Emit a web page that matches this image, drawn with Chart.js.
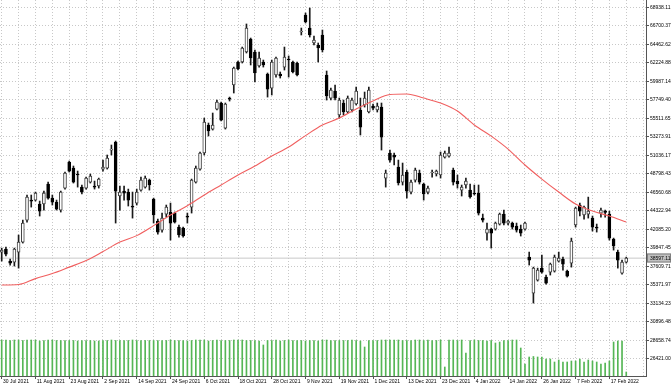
<!DOCTYPE html>
<html>
<head>
<meta charset="utf-8">
<style>
  html, body { margin: 0; padding: 0; background: #fff; }
  #wrap { width: 671px; height: 386px; }
</style>
<script src="https://cdn.jsdelivr.net/npm/chart.js@4.4.1/dist/chart.umd.min.js"></script>
</head>
<body>
<div id="wrap"><canvas id="chart" width="671" height="386"></canvas></div>
<script>
// time axis labels, one every 8 bars (weekday bars)
const dateLabels = [
  "30 Jul 2021", "11 Aug 2021", "23 Aug 2021", "2 Sep 2021", "14 Sep 2021",
  "24 Sep 2021", "6 Oct 2021", "18 Oct 2021", "28 Oct 2021", "9 Nov 2021",
  "19 Nov 2021", "1 Dec 2021", "13 Dec 2021", "23 Dec 2021", "4 Jan 2022",
  "14 Jan 2022", "26 Jan 2022", "7 Feb 2022", "17 Feb 2022",
];

// price scale labels
const priceTicks = [
  "26421.00", "28658.74", "30896.48", "33134.23", "35371.97", "37609.71",
  "39847.45", "42085.20", "44322.94", "46560.68", "48798.43", "51036.17",
  "53273.91", "55511.65", "57749.40", "59987.14", "62224.88", "64462.62",
  "66700.37", "68938.11",
];

// daily candles (index 0 = 30 Jul 2021)
const opens = [
  39330, 39690, 38240, 38120, 39330, 40540, 43200, 45620, 45620, 45140,
  45140, 47560, 45860, 45380, 44410, 47070, 50220, 49490, 48770, 47190,
  47070, 47800, 47320, 47320, 49370, 49490, 51670, 52640, 46110, 46710,
  46590, 44900, 45260, 46830, 47190, 48040, 45740, 43080, 41990, 43930,
  44170, 44050, 42350, 42230, 43690, 44770, 47800, 49370, 51310, 54700,
  54210, 56630, 57360, 54330, 57960, 59540, 62320, 62320, 63530, 65100,
  63530, 61840, 62320, 60870, 59170, 60750, 60870, 61710, 62680, 62320,
  62200, 65950, 68010, 66430, 64620, 64380, 65590, 60750, 57960, 58810,
  55910, 57360, 56270, 56510, 57240, 56510, 57120, 56270, 57000, 56510,
  56870, 48280, 51310, 51070, 49610, 47800, 49010, 46590, 48040, 48890,
  47560, 46590, 48890, 48770, 48650, 50820, 50940, 49250, 47920, 46830,
  47440, 46830, 46470, 46470, 43440, 41630, 42110, 42110, 42720, 43930,
  42840, 42840, 42470, 42110, 42110, 38720, 34370, 35940, 37390, 36310,
  36910, 37030, 38240, 38480, 37030, 38000, 42600, 45020, 43810, 43930,
  43440, 42350, 44050, 44170, 43930, 40900, 39330, 36790, 38120,
];
const highs = [
  39810, 39930, 38480, 39810, 41390, 43200, 46230, 46230, 46590, 45500,
  46710, 47800, 46230, 45620, 46710, 49010, 50340, 49740, 49130, 47440,
  48400, 48770, 47920, 48280, 50460, 51070, 52280, 52760, 47320, 47320,
  46950, 46590, 46950, 48400, 48530, 48160, 45860, 43320, 44050, 45020,
  45260, 44170, 42600, 42350, 44050, 48160, 49740, 51430, 55540, 54940,
  56150, 57720, 57480, 57360, 58080, 61710, 62440, 64130, 66920, 65220,
  63770, 63530, 62560, 60990, 62560, 62920, 61110, 64130, 63050, 62440,
  62320, 66430, 68250, 68850, 65470, 64620, 66190, 61230, 59170, 59540,
  57960, 57720, 58210, 57960, 59290, 57960, 58690, 59290, 57240, 57360,
  57360, 49250, 51670, 51310, 50460, 50100, 49250, 48040, 49490, 49250,
  47680, 47320, 49250, 49250, 51430, 51550, 52030, 49490, 48650, 47440,
  48280, 47560, 47440, 47440, 43930, 42840, 42230, 42960, 44050, 44410,
  43200, 42960, 42840, 42600, 42960, 39330, 37510, 37390, 38970, 36550,
  38000, 38970, 39330, 38720, 37150, 41020, 44770, 45260, 44900, 45980,
  43690, 42720, 44650, 44410, 44290, 41020, 39570, 38360, 38720,
];
const lows = [
  38240, 38850, 37760, 37640, 37390, 40420, 42960, 44770, 45500, 43690,
  44410, 45740, 45020, 44410, 44170, 46950, 49010, 47680, 47190, 46350,
  46950, 47680, 46950, 47070, 49130, 49370, 51070, 42840, 44410, 45620,
  44900, 43440, 45020, 46710, 47070, 46830, 42840, 41510, 41750, 43560,
  40780, 42840, 41140, 41140, 42840, 44050, 47680, 49250, 51070, 53370,
  54090, 56510, 55180, 54210, 57600, 58570, 61350, 62200, 63410, 61960,
  59900, 61710, 61710, 58080, 58330, 60500, 60380, 61350, 60500, 60990,
  60630, 65590, 67040, 65340, 64380, 62320, 63530, 57720, 57720, 57720,
  55540, 55910, 56150, 56270, 57120, 53490, 56870, 56150, 56510, 56270,
  51670, 47190, 50220, 49860, 47440, 47440, 45860, 46350, 47800, 47560,
  45620, 46350, 48400, 48530, 48280, 50700, 50820, 47440, 47070, 46110,
  47070, 45860, 46230, 43810, 42960, 40780, 39810, 41990, 42600, 42600,
  42600, 42110, 41750, 41270, 41990, 37760, 33160, 35820, 36790, 35460,
  36550, 36910, 38120, 37150, 36310, 37510, 42350, 43690, 43320, 43440,
  41870, 41750, 43560, 43560, 40780, 39570, 37390, 36670, 38000,
];
const closes = [
  39570, 39090, 38000, 39690, 40540, 42840, 45980, 45500, 46470, 44290,
  46470, 45860, 45380, 44530, 46590, 48890, 49130, 47800, 48650, 46590,
  48280, 48530, 47190, 48160, 49610, 50700, 51790, 46710, 46590, 46470,
  45620, 44770, 46590, 48040, 48280, 47440, 43810, 41750, 43440, 44770,
  42840, 42960, 41390, 41270, 43560, 48040, 49490, 51310, 55060, 53970,
  54700, 57480, 55300, 57240, 57840, 61590, 61470, 64010, 66430, 62800,
  60990, 62800, 61960, 59050, 62320, 62800, 60630, 62920, 62560, 61110,
  60750, 66070, 67160, 65590, 64980, 64010, 63770, 58210, 58930, 57960,
  57720, 56270, 57960, 57720, 58810, 54450, 57960, 58930, 56750, 57000,
  53240, 48890, 50460, 50820, 47680, 48650, 46710, 47800, 49250, 47800,
  46350, 47070, 49010, 49130, 51070, 51310, 51310, 47800, 47560, 47190,
  47920, 45990, 46350, 44050, 43200, 42110, 41630, 42840, 43930, 42840,
  43080, 42350, 41990, 41630, 42840, 38360, 37390, 37150, 36910, 35580,
  37880, 38720, 38600, 37880, 36430, 40660, 44650, 44290, 44770, 44290,
  42350, 42230, 44410, 44130, 41020, 40060, 38360, 38120, 38597.11,
];

// tick volume (thousands)
const volumes = [
  72, 72, 71, 72, 72, 71, 72, 72, 72, 70,
  71, 72, 72, 71, 71, 71, 71, 71, 70, 71,
  71, 71, 70, 70, 71, 71, 72, 71, 71, 71,
  71, 72, 71, 71, 71, 71, 71, 71, 71, 71,
  72, 71, 71, 71, 70, 71, 72, 72, 72, 70,
  71, 72, 71, 71, 71, 72, 72, 72, 71, 71,
  71, 70, 62, 71, 71, 72, 70, 71, 72, 71,
  71, 71, 70, 71, 71, 70, 72, 72, 71, 71,
  71, 71, 71, 72, 71, 70, 58, 71, 71, 71,
  72, 72, 72, 72, 72, 71, 71, 71, 72, 72,
  71, 72, 71, 71, 72, 18, 72, 72, 71, 72,
  46, 71, 72, 71, 71, 70, 71, 66, 68, 71,
  71, 72, 72, 56, 24, 38, 39, 38, 38, 34,
  34, 28, 32, 28, 28, 30, 30, 34, 28, 32,
  30, 28, 24, 26, 30, 68, 70, 70, 8,
];

// moving average, read every 4 bars
const maValues = [
  35340, 35400, 36120, 36730, 37510, 38300, 39390, 40540, 41320, 42530,
  43810, 44940, 46230, 47440, 48650, 49730, 50940, 52030, 53420, 54700,
  55540, 56630, 57600, 58390, 58450, 57960, 57360, 56390, 54700, 53360,
  51790, 49860, 48160, 46590, 45140, 44290, 43690, 42960,
];

const lastPrice = 38597.11;
const X_MIN = -0.403;
const X_MAX = 152.68;

const bodyData = opens.map((o, i) => ({ x: i, y: [o, closes[i]] }));
const wickData = lows.map((l, i) => ({ x: i, y: [l, highs[i]] }));
const volData = volumes.map((v, i) => ({ x: i, y: v }));
const maData = maValues.map((v, k) => ({ x: k * 4, y: v }));
const bidData = [{ x: X_MIN, y: lastPrice }, { x: X_MAX, y: lastPrice }];

const isBull = (i) => closes[i] >= opens[i];
const FONT = { family: "'Liberation Sans', Arial, sans-serif", size: 5 };

// price tag on the right scale
const priceTag = {
  id: "priceTag",
  afterDraw(chart) {
    const { ctx, chartArea } = chart;
    const y = Math.round(chart.scales.y.getPixelForValue(lastPrice));
    const x0 = chartArea.right + 1;
    ctx.save();
    ctx.fillStyle = "#c0c0c0";
    ctx.fillRect(x0, y - 4.5, chart.width - x0, 9);
    ctx.strokeStyle = "#808080";
    ctx.lineWidth = 1;
    ctx.strokeRect(x0 + 0.5, y - 4, chart.width - x0 - 1, 8);
    ctx.fillStyle = "#000";
    ctx.font = "5px 'Liberation Sans', Arial, sans-serif";
    ctx.textBaseline = "middle";
    ctx.fillText(lastPrice.toFixed(2), x0 + 3, y + 0.5);
    ctx.restore();
  },
};

new Chart(document.getElementById("chart"), {
  type: "bar",
  data: {
    datasets: [
      {
        type: "line",
        data: maData,
        borderColor: "rgb(240, 95, 95)",
        borderWidth: 1.1,
        pointRadius: 0,
        tension: 0.4,
        cubicInterpolationMode: "monotone",
        order: 0,
      },
      {
        data: bodyData,
        backgroundColor: (c) => (isBull(c.dataIndex) ? "#fff" : "#000"),
        borderColor: (c) => (isBull(c.dataIndex) ? "#404040" : "#000"),
        borderWidth: 1,
        borderSkipped: false,
        barThickness: 3,
        minBarLength: 1,
        grouped: false,
        order: 1,
      },
      {
        data: wickData,
        backgroundColor: "#1a1a1a",
        borderWidth: 0,
        barThickness: 1,
        grouped: false,
        order: 2,
      },
      {
        type: "line",
        data: bidData,
        borderColor: "#c8c8c8",
        borderWidth: 1,
        pointRadius: 0,
        order: 3,
      },
      {
        data: volData,
        yAxisID: "yv",
        backgroundColor: "rgb(85, 182, 85)",
        borderWidth: 0,
        barThickness: 1,
        grouped: false,
        order: 4,
      },
    ],
  },
  options: {
    responsive: false,
    animation: false,
    events: [],
    layout: { padding: 0 },
    plugins: { legend: { display: false }, tooltip: { enabled: false } },
    scales: {
      x: {
        type: "linear",
        min: X_MIN,
        max: X_MAX,
        bounds: "data",
        offset: false,
        afterBuildTicks: (s) => {
          s.ticks = [];
          for (let v = 0; v <= 152; v += 4) s.ticks.push({ value: v });
        },
        afterFit: (s) => {
          s.height = 10;
          s.paddingLeft = 0;
          s.paddingRight = 0;
        },
        grid: {
          color: "#c8c8c8",
          offset: false,
          tickLength: 3,
          tickBorderDash: [],
          tickColor: (c) =>
            c.tick && c.tick.value % 8 === 0 && dateLabels[c.tick.value / 8] ? "#555" : "rgba(0,0,0,0)",
        },
        border: { color: "#555", width: 1, dash: [1, 2] },
        ticks: {
          autoSkip: false,
          maxRotation: 0,
          minRotation: 0,
          align: "start",
          padding: 0,
          color: "#000",
          font: FONT,
          callback: (v) => (v % 8 === 0 && dateLabels[v / 8] ? " " + dateLabels[v / 8] : ""),
        },
      },
      y: {
        position: "right",
        min: 24340,
        max: 69821,
        bounds: "data",
        afterBuildTicks: (s) => {
          s.ticks = priceTicks.map((t) => ({ value: parseFloat(t) }));
        },
        afterFit: (s) => {
          s.width = 25;
          s.paddingTop = 0;
          s.paddingBottom = 0;
        },
        grid: { color: "#c8c8c8", tickLength: 3, tickBorderDash: [], tickColor: "#555" },
        border: { color: "#555", width: 1, dash: [1, 2] },
        ticks: {
          padding: 1,
          color: "#000",
          font: FONT,
          callback: (v) => Number(v).toFixed(2),
        },
      },
      yv: { display: false, min: 0, max: 752 },
    },
  },
  plugins: [priceTag],
});
</script>
</body>
</html>
